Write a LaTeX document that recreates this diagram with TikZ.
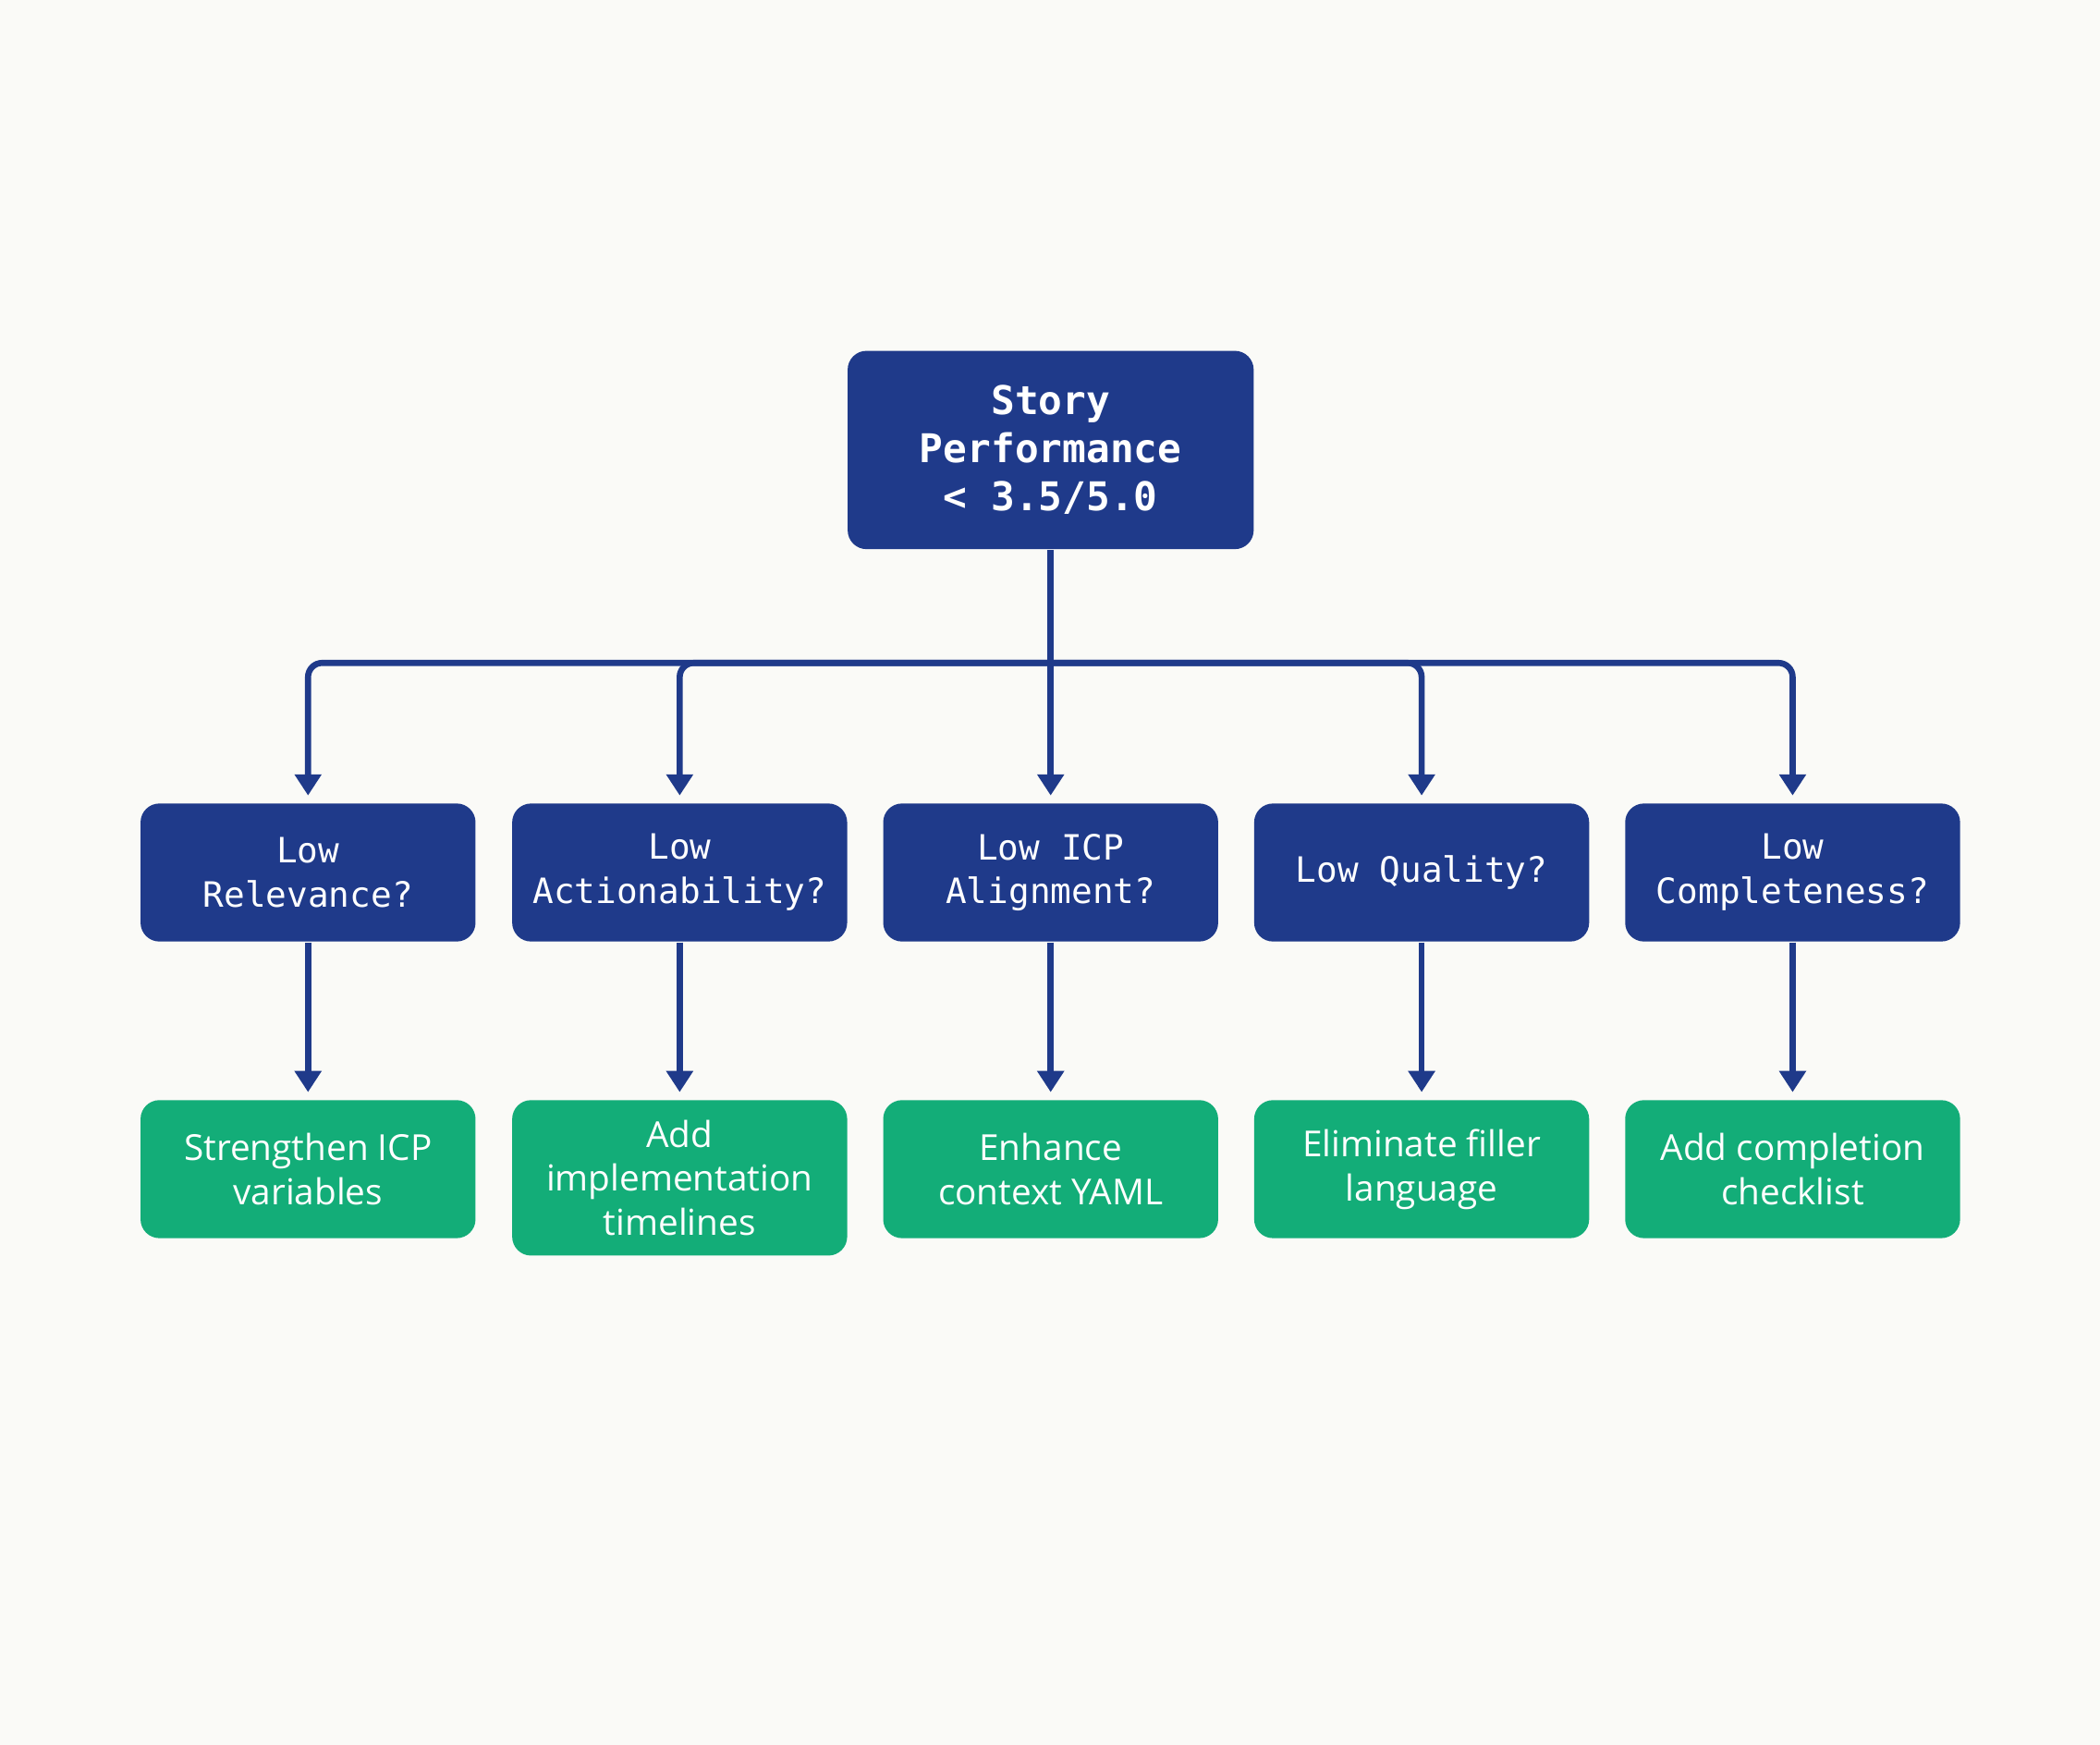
\documentclass[tikz,border=0pt]{standalone}
\usepackage{fontspec}
\setmainfont{Open Sans}
\setmonofont{DejaVu Sans Mono}
\usetikzlibrary{arrows.meta}
\definecolor{navy}{HTML}{1F3A8A}
\definecolor{grn}{HTML}{13AD78}
\definecolor{bg}{HTML}{FAFAF7}
\begin{document}
\begin{tikzpicture}[x=0.01cm,y=-0.01cm,
  q/.style={fill=navy,text=white,font=\ttfamily\fontsize{7.4}{9.4}\selectfont,align=center,minimum width=250*0.2845pt,minimum height=103*0.2845pt,inner sep=0pt,rounded corners=4pt},
  a/.style={fill=grn,text=white,font=\fontsize{7.6}{9.4}\selectfont,align=center,minimum width=250*0.2845pt,minimum height=103*0.2845pt,inner sep=0pt,rounded corners=4pt},
  c/.style={draw=navy,line width=1.3pt,-{Triangle[width=5.5pt,length=4.5pt]},rounded corners=3pt,shorten >=1.5pt}]
\fill[bg] (0,0) rectangle (1568,1303);
\node[fill=navy,text=white,font=\ttfamily\bfseries\fontsize{8.4}{10.2}\selectfont,align=center,minimum width=303*0.2845pt,minimum height=148*0.2845pt,inner sep=0pt,rounded corners=4pt] (top) at (784.5,336) {Story\\Performance\\< 3.5/5.0};
\node[q] (q1) at (230,651.5) {Low\\Relevance?};
\node[q] (q2) at (507.5,651.5) {Low\\Actionability?};
\node[q] (q3) at (784.5,651.5) {Low ICP\\Alignment?};
\node[q] (q4) at (1061.5,651.5) {Low Quality?};
\node[q] (q5) at (1338.5,651.5) {Low\\Completeness?};
\node[a] (a1) at (230,873) {Strengthen ICP\\variables};
\node[a,minimum height=116*0.2845pt] (a2) at (507.5,879.5) {Add\\implementation\\timelines};
\node[a] (a3) at (784.5,873) {Enhance\\context YAML};
\node[a] (a4) at (1061.5,873) {Eliminate filler\\language};
\node[a] (a5) at (1338.5,873) {Add completion\\checklist};
\coordinate (bus) at (784.5,495);
\draw[navy,line width=1.3pt] (top.south) -- (bus);
\foreach \i in {1,2,4,5}{
  \draw[c] (bus) -| (q\i.north);
}
\draw[c] (bus) -- (q3.north);
\foreach \i in {1,...,5}{
  \draw[c] (q\i.south) -- (a\i.north);
}
\end{tikzpicture}
\end{document}
